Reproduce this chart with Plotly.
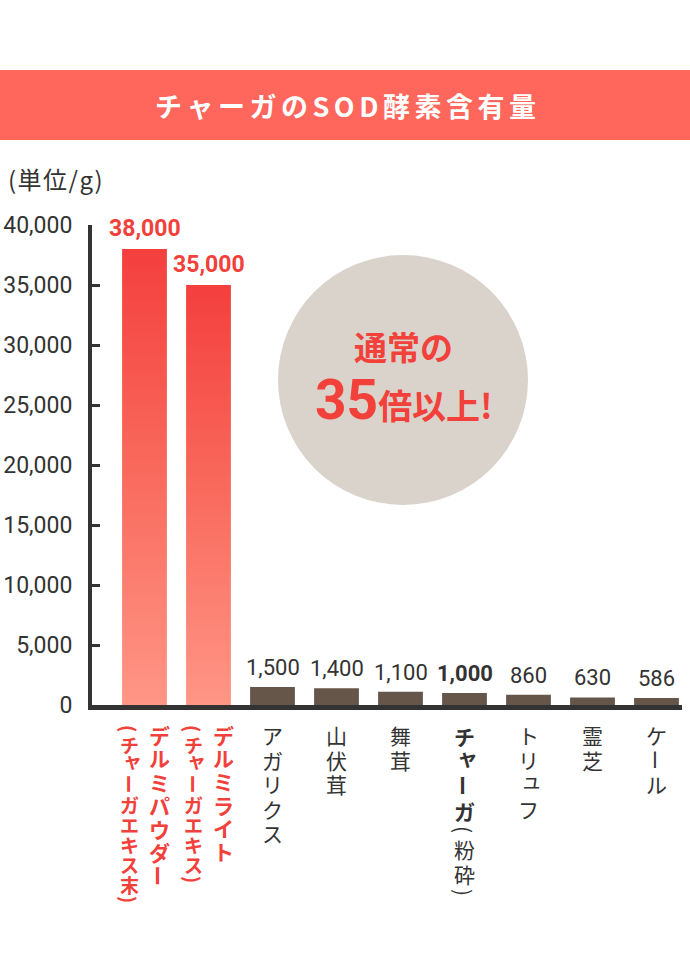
import plotly.graph_objects as go

# ---- data ----
categories = ["デルミパウダー（チャーガエキス末）", "デルミライト（チャーガエキス）", "アガリクス", "山伏茸",
              "舞茸", "チャーガ（粉砕）", "トリュフ", "霊芝", "ケール"]
values = [38000, 35000, 1500, 1400, 1100, 1000, 860, 630, 586]
value_labels = ["38,000", "35,000", "1,500", "1,400", "1,100", "1,000", "860", "630", "586"]
y_ticks = [0, 5000, 10000, 15000, 20000, 25000, 30000, 35000, 40000]
y_ticktext = ["0", "5,000", "10,000", "15,000", "20,000", "25,000", "30,000", "35,000", "40,000"]
highlight = [True, True, False, False, False, False, False, False, False]
bold_item = [False, False, False, False, False, True, False, False, False]

title_text = "チャーガのSOD酵素含有量"
unit_text = "(単位/g)"
badge_line1 = "通常の"
badge_num = "35"
badge_rest = "倍以上!"

RED = "#f2403a"
BROWN = "#66564a"
DARK = "#333333"
JP = "Noto Sans CJK JP"
NUM = "Roboto"

W, H = 690, 960
L, R, T, B = 92, 8, 225, 255
PW, PH = W - L - R, H - T - B


def px2paper_x(px):
    return (px - L) / PW


def px2paper_y(py):
    return (H - B - py) / PH


ROTATE = {"（": "(", "）": ")", "ー": "ー"}
SMALL = set("ャュョッァィゥェォ")
PARENS = set("（）")

fig = go.Figure()
bw = 0.70

# brown bars
xs_b = [i for i, h in enumerate(highlight) if not h]
fig.add_trace(go.Bar(x=xs_b, y=[values[i] for i in xs_b], width=bw,
                     marker=dict(color=BROWN, line=dict(width=0)), hoverinfo="y"))

# gradient red bars
for i, h in enumerate(highlight):
    if h:
        v = values[i]
        fig.add_trace(go.Scatter(
            x=[i - bw / 2, i + bw / 2, i + bw / 2, i - bw / 2, i - bw / 2],
            y=[0, 0, v, v, 0], mode="lines", fill="toself", line=dict(width=0),
            fillgradient=dict(type="vertical",
                              colorscale=[[0, "#ff9686"], [0.5, "#f96b5e"], [1, "#f43f3d"]]),
            hoverinfo="skip"))

annotations = []
# value labels
for i, v in enumerate(values):
    if highlight[i]:
        f = dict(family=NUM, size=23, color=RED, weight="bold")
    elif bold_item[i]:
        f = dict(family=NUM, size=22, color=DARK, weight="bold")
    else:
        f = dict(family=NUM, size=22, color=DARK)
    annotations.append(dict(x=i, y=v, xref="x", yref="y", text=value_labels[i],
                            showarrow=False, yanchor="bottom", yshift=5, font=f))


def vcol(i, text, xshift, pitch, color, bold_n, size=21, top=18, paren_pitch=12):
    """Stack characters vertically under category i; first bold_n characters are bold."""
    cur = top
    for k, c in enumerate(text):
        adv = paren_pitch if c in PARENS else pitch
        center = cur + adv / 2
        cur += adv
        angle = 0
        ch = c
        if c in ROTATE:
            ch = ROTATE[c]
            angle = 90
        dx, dy = 0, 0
        if c in SMALL:
            dx, dy = 3, 5
        t = "<b>" + ch + "</b>" if k < bold_n else ch
        annotations.append(dict(x=i, y=0, xref="x", yref="paper", text=t, showarrow=False,
                                xanchor="center", yanchor="middle", textangle=angle,
                                xshift=xshift + dx, yshift=-center + dy,
                                font=dict(family=JP, size=size, color=color)))


for i, c in enumerate(categories):
    if highlight[i]:
        main, paren = c.split("（")
        paren = "（" + paren
        main_pitch = 23.5 if len(main) > 6 else 23.3
        vcol(i, main, 15, main_pitch, RED, len(main), size=21)
        vcol(i, paren, -15, 20, RED, len(paren), size=19, paren_pitch=11)
    elif bold_item[i]:
        main = c.split("（")[0]
        vcol(i, c, 0, 25, DARK, len(main), paren_pitch=13)
    else:
        vcol(i, c, 0, 24.5, DARK, 0)

# title
annotations.append(dict(x=px2paper_x(345), y=px2paper_y(105), xref="paper", yref="paper",
                        text="\u2006".join(title_text), showarrow=False,
                        xanchor="center", yanchor="middle",
                        font=dict(family=JP, size=27, color="white", weight="bold")))
# unit
annotations.append(dict(x=px2paper_x(6), y=px2paper_y(178), xref="paper", yref="paper",
                        text="\u200a".join(unit_text), showarrow=False, xanchor="left", yanchor="middle",
                        font=dict(family=JP, size=24, color=DARK)))
# badge text
annotations.append(dict(x=px2paper_x(403), y=px2paper_y(346), xref="paper", yref="paper",
                        text="<b>" + badge_line1 + "</b>", showarrow=False,
                        xanchor="center", yanchor="middle",
                        font=dict(family=JP, size=33, color=RED)))
annotations.append(dict(x=px2paper_x(404), y=px2paper_y(400), xref="paper", yref="paper",
                        text="<b><span style='font-size:55px;font-family:Roboto'>" + badge_num +
                             "</span>" + badge_rest + "</b>",
                        showarrow=False, xanchor="center", yanchor="middle",
                        font=dict(family=JP, size=34, color=RED)))

shapes = [
    dict(type="rect", xref="paper", yref="paper", x0=px2paper_x(-30), x1=px2paper_x(W + 30),
         y0=px2paper_y(140), y1=px2paper_y(70), fillcolor="#ff665c", line=dict(width=0), layer="below"),
    dict(type="circle", xref="paper", yref="paper", x0=px2paper_x(278), x1=px2paper_x(528),
         y0=px2paper_y(505), y1=px2paper_y(255), fillcolor="#d9d3cb", line=dict(width=0), layer="below"),
]

x0_range = -(144.5 - L) / 64.0
x1_range = x0_range + PW / 64.0

fig.update_layout(
    width=W, height=H, margin=dict(l=L, r=R, t=T, b=B, autoexpand=False),
    paper_bgcolor="white", plot_bgcolor="white", showlegend=False,
    annotations=annotations, shapes=shapes,
    xaxis=dict(range=[x0_range, x1_range], showticklabels=False, ticks="", showgrid=False,
               zeroline=False, showline=True, linecolor=DARK, linewidth=5, fixedrange=True,
               automargin=False),
    yaxis=dict(range=[0, 40000], tickvals=y_ticks, ticktext=y_ticktext, ticks="inside",
               ticklen=8, tickwidth=3, tickcolor=DARK, showgrid=False, zeroline=False,
               showline=True, linecolor=DARK, linewidth=4, ticklabelstandoff=11,
               tickfont=dict(family=NUM, size=23, color=DARK), fixedrange=True,
               automargin=False),
    bargap=0.3,
)

fig.write_html("out.html", config={"displayModeBar": False},
               post_script="document.body.style.margin='0';document.body.style.overflow='hidden';")
